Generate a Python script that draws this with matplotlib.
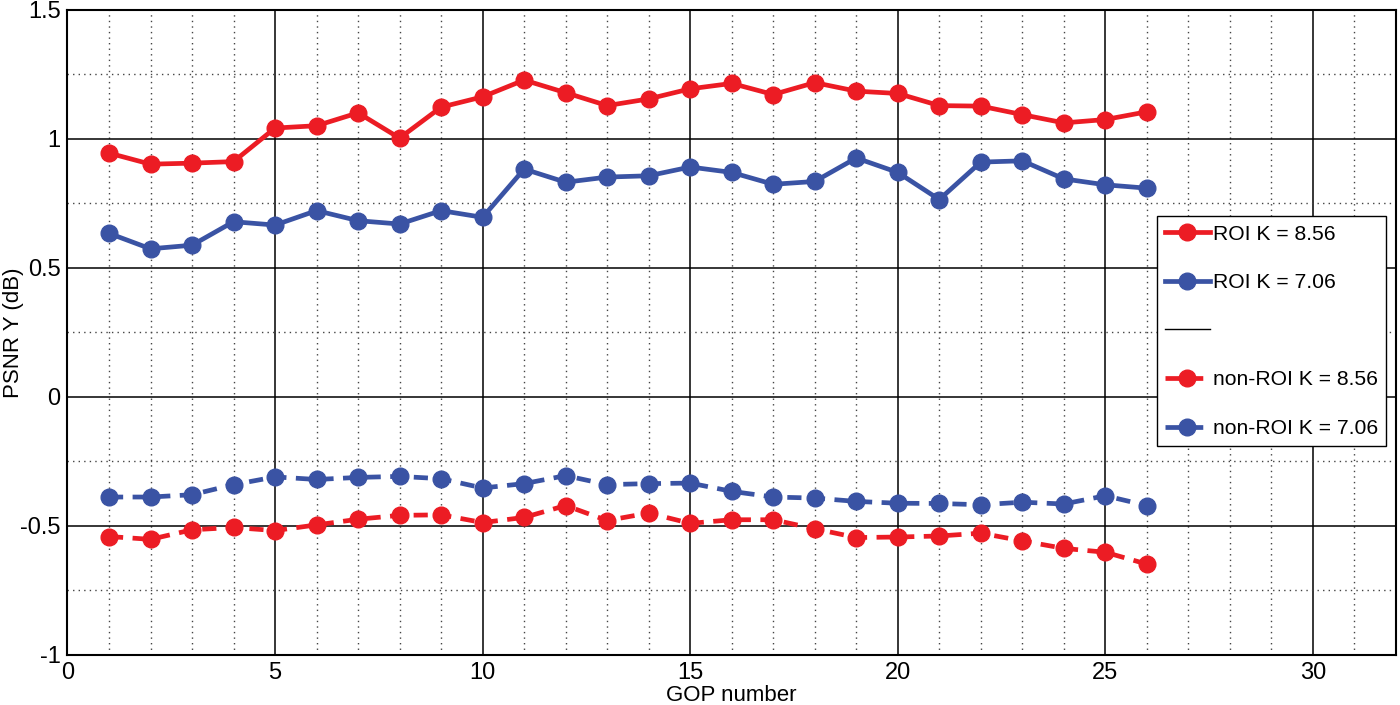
import numpy as np
import matplotlib
matplotlib.use('Agg')
import matplotlib.pyplot as plt
from matplotlib.lines import Line2D
from matplotlib.ticker import MultipleLocator

plt.rcParams['font.family'] = ['Liberation Sans', 'DejaVu Sans']

# GOP index 1..26
gop = list(range(1, 27))

roi_856 = [0.945, 0.902, 0.906, 0.912, 1.042, 1.051, 1.101, 1.003, 1.123, 1.163,
           1.228, 1.179, 1.129, 1.155, 1.194, 1.215, 1.172, 1.218, 1.185, 1.176,
           1.129, 1.127, 1.094, 1.062, 1.075, 1.105]
roi_706 = [0.634, 0.574, 0.588, 0.679, 0.666, 0.722, 0.683, 0.670, 0.722, 0.696,
           0.883, 0.832, 0.852, 0.857, 0.891, 0.870, 0.824, 0.835, 0.926, 0.870,
           0.765, 0.910, 0.915, 0.845, 0.822, 0.809]
nonroi_856 = [-0.541, -0.552, -0.515, -0.506, -0.518, -0.496, -0.474, -0.459, -0.457, -0.487,
              -0.467, -0.421, -0.479, -0.450, -0.490, -0.476, -0.476, -0.511, -0.545, -0.543,
              -0.539, -0.528, -0.558, -0.587, -0.602, -0.648]
nonroi_706 = [-0.388, -0.388, -0.379, -0.340, -0.310, -0.320, -0.312, -0.308, -0.317, -0.353,
              -0.336, -0.305, -0.340, -0.336, -0.334, -0.366, -0.388, -0.392, -0.405, -0.412,
              -0.413, -0.418, -0.408, -0.415, -0.383, -0.421]

labels = ['ROI K = 8.56', 'ROI K = 7.06', 'non-ROI K = 8.56', 'non-ROI K = 7.06']
xticks = [0, 5, 10, 15, 20, 25, 30]
yticks = [-1, -0.5, 0, 0.5, 1, 1.5]
yticklabels = ['-1', '-0.5', '0', '0.5', '1', '1.5']

red = '#ec1c24'
blue = '#3a53a4'

fig = plt.figure(figsize=(14, 7.05), dpi=100)
ax = fig.add_axes([0.0482, 0.071, 0.9489, 0.915])

lw = 3.4
ms = 12
h1, = ax.plot(gop, roi_856, '-', color=red, lw=lw, marker='o', ms=ms, label=labels[0])
h2, = ax.plot(gop, roi_706, '-', color=blue, lw=lw, marker='o', ms=ms, label=labels[1])
h3, = ax.plot(gop, nonroi_856, '--', color=red, lw=lw, marker='o', ms=ms,
              dashes=(3, 2), label=labels[2])
h4, = ax.plot(gop, nonroi_706, '--', color=blue, lw=lw, marker='o', ms=ms,
              dashes=(3, 2), label=labels[3])
sep = Line2D([], [], color='black', lw=1)

ax.set_xlim(0, 32)
ax.set_ylim(-1, 1.5)
ax.set_xticks(xticks)
ax.set_xticklabels([str(t) for t in xticks])
ax.set_yticks(yticks)
ax.set_yticklabels(yticklabels)
ax.xaxis.set_minor_locator(MultipleLocator(1))
ax.yaxis.set_minor_locator(MultipleLocator(0.25))

ax.grid(which='major', color='black', lw=1.1, ls='-')
ax.grid(which='minor', color='#444444', lw=1.0, ls=(0, (1, 3)))
ax.set_axisbelow(True)
ax.tick_params(which='both', length=0, labelsize=17, pad=5)
for s in ax.spines.values():
    s.set_linewidth(1.5)

ax.set_xlabel('GOP number', fontsize=16, labelpad=1)
ax.set_ylabel('PSNR Y (dB)', fontsize=16)
ax.yaxis.set_label_coords(-0.033, 0.5)

leg = ax.legend([h1, h2, sep, h3, h4],
                [labels[0], labels[1], '', labels[2], labels[3]],
                loc='upper left', bbox_to_anchor=(0.82, 0.68), borderaxespad=0,
                fontsize=15.2, frameon=True, fancybox=False, edgecolor='black',
                framealpha=1, labelspacing=1.4, handlelength=2.1,
                handletextpad=0.15, borderpad=0.4)
leg.get_frame().set_linewidth(1.0)

fig.savefig('out.png', dpi=100)
